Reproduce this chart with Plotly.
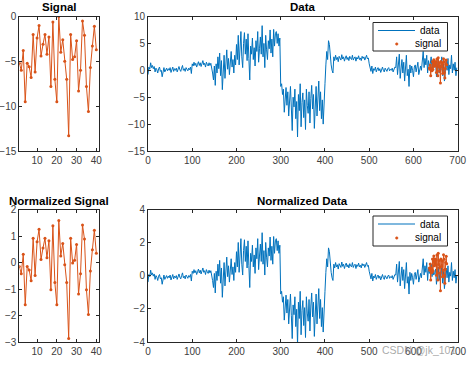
import numpy as np
import plotly.graph_objects as go

# ---------------- data ----------------
signal = [-5.2, -6.0, -3.8, -9.5, -5.2, -5.6, -6.8, -2.0, -6.2, -2.4,
          -1.0, -4.4, -3.1, -2.0, -4.2, -2.3, -7.8, -0.6, -7.0, -9.5,
          0.0, -4.0, -2.6, -5.0, -7.0, -13.3, -2.0, -4.8, -4.5, -2.7,
          -8.3, -6.0, -0.5, -2.1, -7.8, -10.6, -5.7, -3.3, -1.1, -3.7]

data_values = (
    # 0-98
    [-0.8, 0.6, 0.2, 1.4, 0.5, 0.9, 0.3, 0.7, -0.3, 0.4, 0.1, -0.5, 0.3, 0.6, -0.2, 0.0, -1.2, 0.2, 0.5, -0.3,
     0.1, 0.4, -0.1, 0.3, 0.0, 0.5, -0.4, 0.2, 0.6, -0.2, 0.3, 0.0, 0.4, -0.3, 0.2, 0.7, 0.1, -0.2, 0.4, 0.9,
     0.0, 0.3, -0.2, 0.5, 0.2, -0.1, 0.4, 0.1, 0.6, -0.6]
    # 100-144
    + [1.2, 0.8, 1.5, 0.9, 1.3, 0.6, 1.1, 1.6, 0.9, 1.4, 0.7, 1.2, 1.8, 1.0, 1.3, 0.6, 1.5, 1.1, 0.8, 1.4,
       0.9, 1.3, 0.5]
    # 146-198
    + [-0.5, -1.8, 0.8, -2.8, 1.2, -0.5, 2.5, 0.3, 3.2, -1.0, 1.8, -3.6, 0.5, 2.8, -1.5, 1.2, 3.8, 0.2, 2.2, -0.8,
       1.5, 3.5, 0.6, 2.0, -0.5, 2.8, 1.0]
    # 200-288
    + [4.8, 2.0, 6.5, 1.0, 3.8, 7.2, 2.5, 0.5, 5.0, 7.0, 3.0, 5.8, 1.8, 6.8, 2.2, -1.8, 4.5, 3.0, 6.0, 2.0,
       4.2, 0.8, 5.5, 3.5, 7.2, 1.5, 4.0, 6.2, 3.0, 8.3, 2.5, 5.0, 0.5, 6.5, 3.8, 2.0, 5.5, 4.0, 7.5, 3.2,
       5.8, 2.5, 7.6, 4.5, 6.8]
    # 290-298
    + [7.2, 5.0, 6.8, 4.5, 6.0]
    # 300-398
    + [-3.0, -2.5, -4.5, -3.5, -7.8, -5.0, -3.2, -6.5, -4.0, -8.5, -5.5, -3.0, -7.0, -11.2, -5.0, -6.8, -3.5, -9.0, -5.8, -12.4,
       -4.5, -7.5, -2.5, -10.5, -6.0, -4.2, -8.8, -5.5, -11.0, -3.5, -6.5, -8.0, -4.0, -9.8, -5.2, -2.8, -7.2, -4.5, -10.8, -6.2,
       -3.0, -8.5, -5.0, -2.0, -7.5, -4.0, -9.0, -5.5, -10.0, -3.5]
    # 400-418
    + [-2.5, 1.0, 3.5, 2.0, 5.5, 4.8, 2.5, 1.0, 0.0, -0.5]
    # 420-498
    + [2.5, 1.8, 2.8, 2.0, 2.4, 1.6, 2.6, 2.2, 1.9, 2.9, 2.1, 2.5, 1.7, 2.3, 2.7, 2.0, 2.4, 1.8, 2.6, 2.2,
       2.0, 2.8, 1.9, 2.3, 2.5, 1.7, 2.4, 2.1, 2.7, 2.0, 2.3, 1.8, 2.6, 2.2, 2.5, 1.9, 2.4, 2.8, 2.1, 2.3]
    # 500-558
    + [1.2, 0.5, -0.2, 0.8, -0.6, 0.3, 0.0, 0.6, -0.3, 0.2, 0.5, -0.1, 0.3, -0.4, 0.2, 0.6, 0.0, -0.3, 0.4, 0.1,
       -0.2, 0.3, 0.5, -0.1, 0.2, 0.0, 0.4, -0.3, 0.3, 0.6]
    # 560-698
    + [0.5, 2.5, -0.8, 1.2, 3.0, -1.5, 0.8, 2.0, -0.5, 1.5, -2.0, 0.5, 2.8, -1.0, 0.2, -3.0, 1.0, -0.5, 0.8, 0.0,
       -1.2, 0.6, 1.0, -0.3, 0.5, 1.5, -0.8, 0.3, 0.8, 0.0, 1.5, 3.5, 0.5, 2.2, 1.0, 2.8, -0.5, 1.8, 0.8, 1.2,
       2.5, 0.2, 1.5, 0.5, 1.0, 1.6, -1.2, 0.8, 2.0, -0.5, 1.0, 0.0, 2.5, -1.0, 1.2, -2.0, 0.5, 1.8, 0.0, 2.2,
       -0.8, 1.0, 0.3, 2.8, -0.5, 1.2, 0.0, 1.5, -1.0, 0.5]
)
data_x = list(range(0, 700, 2))
signal_x = list(range(1, 41))
match_start = 636  # location where the signal was found in the data
# normalisation constants (mean, std of data)
data_mean, data_std = 0.37, 3.05
# scaling of the matched signal onto data / normalized data
match_scale_data, match_offset_data = 1.05, 0.65
match_scale_norm, match_offset_norm = 0.51, 0.55

sig = np.array(signal)
sig_norm = (sig - sig.mean()) / sig.std(ddof=1)
dat = np.array(data_values)
dat_norm = (dat - data_mean) / data_std
match_x = [match_start + i for i in range(len(signal))]

BLUE = "#0072BD"
ORANGE = "#D95319"
AX = "#262626"
TICK = "#404040"
FONT = "Liberation Sans, Arial, sans-serif"

fig = go.Figure()
fig.add_trace(go.Scatter(x=signal_x, y=sig, mode="lines+markers", line=dict(color=ORANGE, width=1),
                         marker=dict(color=ORANGE, size=3), xaxis="x", yaxis="y"))
fig.add_trace(go.Scatter(x=data_x, y=dat, mode="lines", line=dict(color=BLUE, width=1),
                         xaxis="x2", yaxis="y2"))
fig.add_trace(go.Scatter(x=match_x, y=sig_norm * match_scale_data + match_offset_data, mode="lines+markers",
                         line=dict(color=ORANGE, width=1), marker=dict(color=ORANGE, size=3),
                         xaxis="x2", yaxis="y2"))
fig.add_trace(go.Scatter(x=signal_x, y=sig_norm, mode="lines+markers", line=dict(color=ORANGE, width=1),
                         marker=dict(color=ORANGE, size=3), xaxis="x3", yaxis="y3"))
fig.add_trace(go.Scatter(x=data_x, y=dat_norm, mode="lines", line=dict(color=BLUE, width=1),
                         xaxis="x4", yaxis="y4"))
fig.add_trace(go.Scatter(x=match_x, y=sig_norm * match_scale_norm + match_offset_norm, mode="lines+markers",
                         line=dict(color=ORANGE, width=1), marker=dict(color=ORANGE, size=3),
                         xaxis="x4", yaxis="y4"))

W, H = 474, 366
def px_x(a, b):
    return [a / W, b / W]
def px_y(top, bottom):
    return [1 - bottom / H, 1 - top / H]
def fx(p):
    return p / W
def fy(p):
    return 1 - p / H

common = dict(showgrid=False, zeroline=False, showline=True, linecolor=AX, linewidth=1, mirror="ticks",
              ticks="inside", ticklen=3, tickcolor=AX, automargin=False,
              tickfont=dict(family=FONT, size=10, color=TICK))

shapes = []
annotations = []
# manual legends (MATLAB style)
for top, bot, line_y, mark_y in [(22.5, 51, 30.5, 44), (216, 246, 224, 238)]:
    shapes.append(dict(type="rect", xref="paper", yref="paper", x0=fx(373), x1=fx(447.5), y0=fy(bot), y1=fy(top),
                       line=dict(color=AX, width=1), fillcolor="white", layer="above"))
    shapes.append(dict(type="line", xref="paper", yref="paper", x0=fx(378), x1=fx(415), y0=fy(line_y), y1=fy(line_y),
                       line=dict(color=BLUE, width=1.2), layer="above"))
    shapes.append(dict(type="circle", xref="paper", yref="paper", x0=fx(395.5), x1=fx(398), y0=fy(mark_y + 1.25),
                       y1=fy(mark_y - 1.25), line=dict(color=ORANGE, width=0.5), fillcolor=ORANGE, layer="above"))
    annotations.append(dict(text="data", x=fx(442), y=fy(line_y), xref="paper", yref="paper", xanchor="right",
                            yanchor="middle", showarrow=False, font=dict(family=FONT, size=10, color="black")))
    annotations.append(dict(text="signal", x=fx(443), y=fy(mark_y - 1), xref="paper", yref="paper", xanchor="right",
                            yanchor="middle", showarrow=False, font=dict(family=FONT, size=10, color="black")))

for txt, cx, cy in [("Signal", (19.3 + 98.7) / 2, 7), ("Data", (148 + 457.7) / 2, 7),
                    ("Normalized Signal", (19.3 + 98.7) / 2, 201), ("Normalized Data", (148 + 457.7) / 2, 201)]:
    annotations.append(dict(text="<b>" + txt + "</b>", x=fx(cx), y=fy(cy), xref="paper", yref="paper",
                            xanchor="center", showarrow=False,
                            font=dict(family=FONT, size=11.5, color="black"), yanchor="middle"))
annotations.append(dict(text="CSDN @jk_101", x=fx(458), y=fy(350), xref="paper", yref="paper", xanchor="right",
                        showarrow=False, font=dict(family=FONT, size=10.5, color="rgba(140,140,140,0.75)"),
                        yanchor="middle"))

fig.update_layout(
    width=W, height=H, margin=dict(l=0, r=0, t=0, b=0), showlegend=False,
    paper_bgcolor="white", plot_bgcolor="white", font=dict(family=FONT, color=AX),
    xaxis=dict(domain=px_x(19.3, 98.7), range=[1, 41.2], tickvals=[10, 20, 30, 40], anchor="y", **common),
    yaxis=dict(domain=px_y(16.5, 151), range=[-15, 0], tickvals=[0, -5, -10, -15], anchor="x", **common),
    xaxis2=dict(domain=px_x(148, 457.7), range=[0, 700], dtick=100, anchor="y2", **common),
    yaxis2=dict(domain=px_y(16.5, 151), range=[-15, 10], dtick=5, anchor="x2", **common),
    xaxis3=dict(domain=px_x(19.3, 98.7), range=[1, 41.2], tickvals=[10, 20, 30, 40], anchor="y3", **common),
    yaxis3=dict(domain=px_y(209.5, 342), range=[-3, 2], dtick=1, anchor="x3", **common),
    xaxis4=dict(domain=px_x(148, 457.7), range=[0, 700], dtick=100, anchor="y4", **common),
    yaxis4=dict(domain=px_y(209.5, 342), range=[-4, 4], dtick=2, anchor="x4", **common),
    shapes=shapes,
    annotations=annotations,
)

fig.write_html("out.html", config={"displayModeBar": False},
               post_script="document.body.style.margin='0px';document.body.style.overflow='hidden';")
